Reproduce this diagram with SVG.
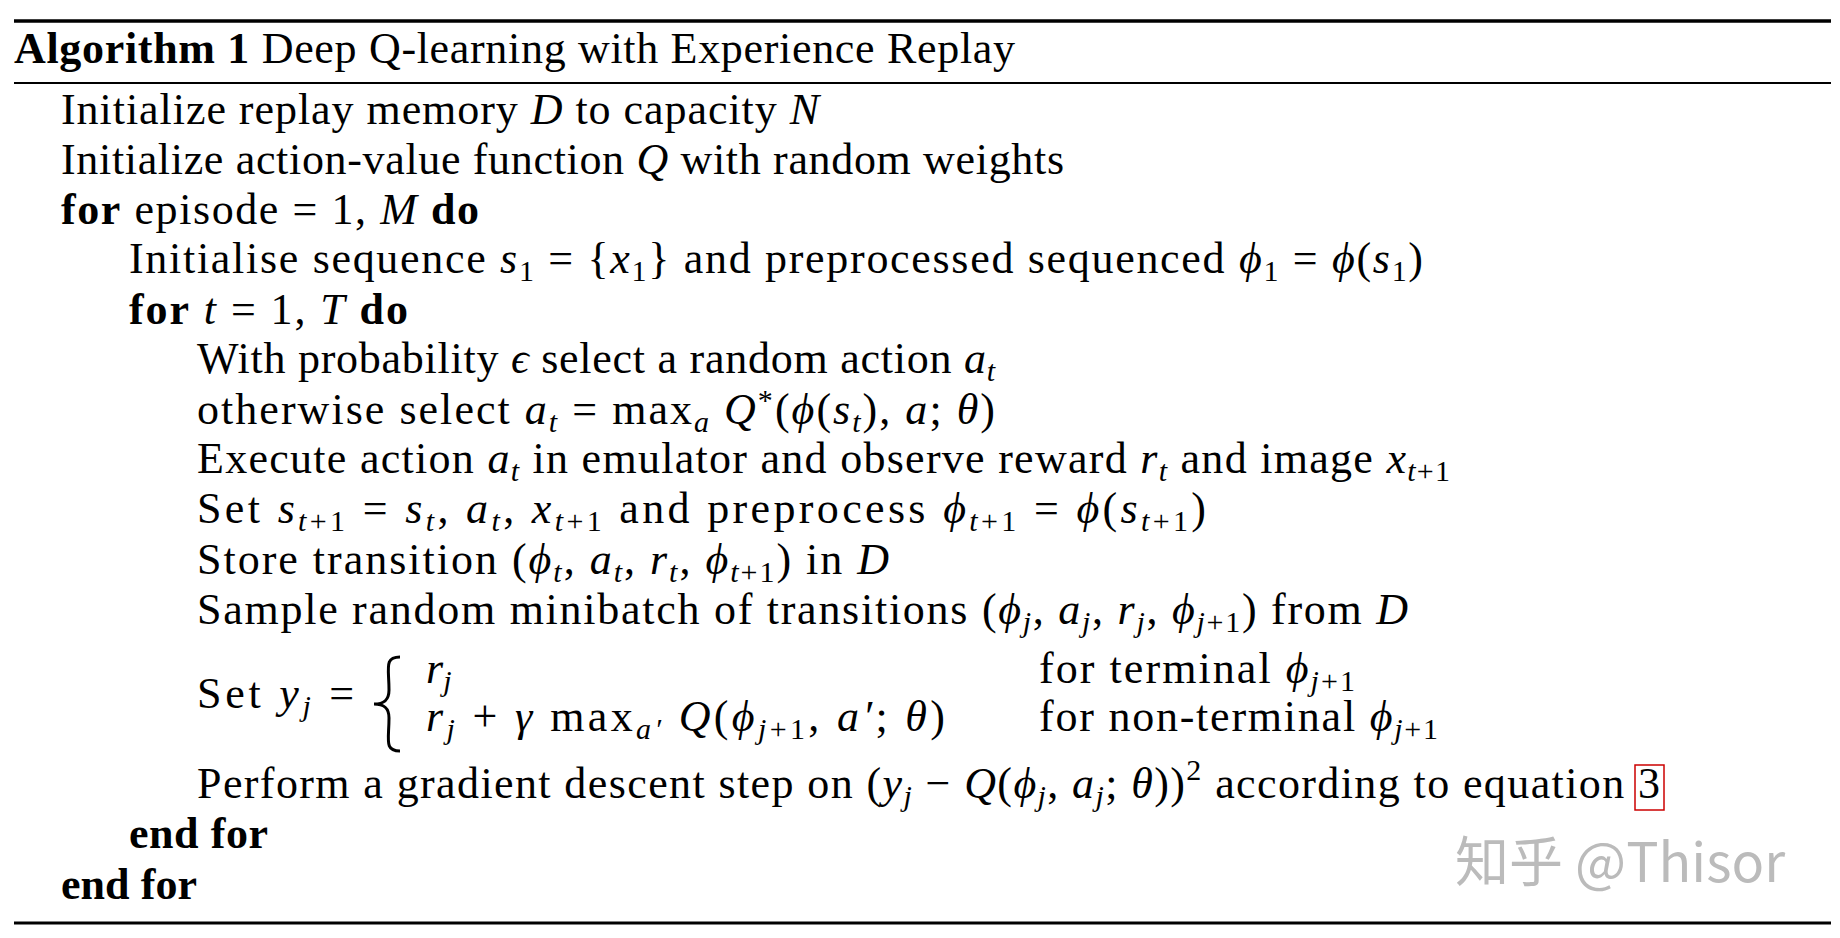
<svg xmlns="http://www.w3.org/2000/svg" width="1840" height="938" viewBox="0 0 1840 938">
<style>
text{font-family:"Liberation Serif","Times New Roman",serif;font-size:44px;fill:#000}
.i{font-style:italic}
.b{font-weight:bold}
.s{font-size:30px}
</style>
<rect width="1840" height="938" fill="#fff"/>
<g id="rules">
<line x1="14" y1="21" x2="1831" y2="21" stroke="#000" stroke-width="3.5"/>
<line x1="14" y1="83" x2="1831" y2="83" stroke="#000" stroke-width="2"/>
<line x1="14" y1="923" x2="1831" y2="923" stroke="#000" stroke-width="3"/>
</g>
<g id="header"><text x="14" y="63" textLength="1001" lengthAdjust="spacing"><tspan class="b">Algorithm 1</tspan> Deep Q-learning with Experience Replay</text></g>
<g id="body">
<text x="61" y="124" textLength="758" lengthAdjust="spacing">Initialize replay memory <tspan class="i">D</tspan> to capacity <tspan class="i">N</tspan></text>
<text x="61" y="174" textLength="1003" lengthAdjust="spacing">Initialize action-value function <tspan class="i">Q</tspan> with random weights</text>
<text x="61" y="224" textLength="418" lengthAdjust="spacing"><tspan class="b">for</tspan> episode = 1, <tspan class="i">M</tspan> <tspan class="b">do</tspan></text>
<text x="129" y="273" textLength="1294" lengthAdjust="spacing">Initialise sequence <tspan class="i">s</tspan><tspan class="s" dy="8">1</tspan><tspan dy="-8"> = {</tspan><tspan class="i">x</tspan><tspan class="s" dy="8">1</tspan><tspan dy="-8">} and preprocessed sequenced </tspan><tspan class="i">ϕ</tspan><tspan class="s" dy="8">1</tspan><tspan dy="-8"> = </tspan><tspan class="i">ϕ</tspan>(<tspan class="i">s</tspan><tspan class="s" dy="8">1</tspan><tspan dy="-8">)</tspan></text>
<text x="129" y="324" textLength="279" lengthAdjust="spacing"><tspan class="b">for</tspan> <tspan class="i">t</tspan> = 1, <tspan class="i">T</tspan> <tspan class="b">do</tspan></text>
<text x="197" y="373" textLength="798" lengthAdjust="spacing">With probability <tspan class="i">ϵ</tspan> select a random action <tspan class="i">a</tspan><tspan class="s i" dy="8">t</tspan></text>
<text x="197" y="424" textLength="798" lengthAdjust="spacing">otherwise select <tspan class="i">a</tspan><tspan class="s i" dy="8">t</tspan><tspan dy="-8"> = max</tspan><tspan class="s i" dy="8">a</tspan><tspan dy="-8"> </tspan><tspan class="i">Q</tspan><tspan dy="-14" class="s">*</tspan><tspan dy="14">(</tspan><tspan class="i">ϕ</tspan>(<tspan class="i">s</tspan><tspan class="s i" dy="8">t</tspan><tspan dy="-8">), </tspan><tspan class="i">a</tspan>; <tspan class="i">θ</tspan>)</text>
<text x="197" y="473" textLength="1253" lengthAdjust="spacing">Execute action <tspan class="i">a</tspan><tspan class="s i" dy="8">t</tspan><tspan dy="-8"> in emulator and observe reward </tspan><tspan class="i">r</tspan><tspan class="s i" dy="8">t</tspan><tspan dy="-8"> and image </tspan><tspan class="i">x</tspan><tspan class="s" dy="8"><tspan class="i">t</tspan>+1</tspan></text>
<text x="197" y="523" textLength="1009" lengthAdjust="spacing">Set <tspan class="i">s</tspan><tspan class="s" dy="8"><tspan class="i">t</tspan>+1</tspan><tspan dy="-8"> = </tspan><tspan class="i">s</tspan><tspan class="s i" dy="8">t</tspan><tspan dy="-8">, </tspan><tspan class="i">a</tspan><tspan class="s i" dy="8">t</tspan><tspan dy="-8">, </tspan><tspan class="i">x</tspan><tspan class="s" dy="8"><tspan class="i">t</tspan>+1</tspan><tspan dy="-8"> and preprocess </tspan><tspan class="i">ϕ</tspan><tspan class="s" dy="8"><tspan class="i">t</tspan>+1</tspan><tspan dy="-8"> = </tspan><tspan class="i">ϕ</tspan>(<tspan class="i">s</tspan><tspan class="s" dy="8"><tspan class="i">t</tspan>+1</tspan><tspan dy="-8">)</tspan></text>
<text x="197" y="574" textLength="692" lengthAdjust="spacing">Store transition (<tspan class="i">ϕ</tspan><tspan class="s i" dy="8">t</tspan><tspan dy="-8">, </tspan><tspan class="i">a</tspan><tspan class="s i" dy="8">t</tspan><tspan dy="-8">, </tspan><tspan class="i">r</tspan><tspan class="s i" dy="8">t</tspan><tspan dy="-8">, </tspan><tspan class="i">ϕ</tspan><tspan class="s" dy="8"><tspan class="i">t</tspan>+1</tspan><tspan dy="-8">) in </tspan><tspan class="i">D</tspan></text>
<text x="197" y="624" textLength="1211" lengthAdjust="spacing">Sample random minibatch of transitions (<tspan class="i">ϕ</tspan><tspan class="s i" dy="8">j</tspan><tspan dy="-8">, </tspan><tspan class="i">a</tspan><tspan class="s i" dy="8">j</tspan><tspan dy="-8">, </tspan><tspan class="i">r</tspan><tspan class="s i" dy="8">j</tspan><tspan dy="-8">, </tspan><tspan class="i">ϕ</tspan><tspan class="s" dy="8"><tspan class="i">j</tspan>+1</tspan><tspan dy="-8">) from </tspan><tspan class="i">D</tspan></text>
<text x="197" y="708" textLength="157" lengthAdjust="spacing">Set <tspan class="i">y</tspan><tspan class="s i" dy="8">j</tspan><tspan dy="-8"> =</tspan></text>
<path d="M400,657 C384,657 389,668 389,690 C389,700 384,704 374,704 C384,704 389,708 389,718 C389,740 384,751 400,751" fill="none" stroke="#000" stroke-width="3"/>
<text x="426" y="683"><tspan class="i">r</tspan><tspan class="s i" dy="8">j</tspan></text>
<text x="426" y="731" textLength="519" lengthAdjust="spacing"><tspan class="i">r</tspan><tspan class="s i" dy="8">j</tspan><tspan dy="-8"> + </tspan><tspan class="i">γ</tspan> max<tspan class="s i" dy="8">a′</tspan><tspan dy="-8"> </tspan><tspan class="i">Q</tspan>(<tspan class="i">ϕ</tspan><tspan class="s" dy="8"><tspan class="i">j</tspan>+1</tspan><tspan dy="-8">, </tspan><tspan class="i">a′</tspan>; <tspan class="i">θ</tspan>)</text>
<text x="1039" y="683" textLength="316" lengthAdjust="spacing">for terminal <tspan class="i">ϕ</tspan><tspan class="s" dy="8"><tspan class="i">j</tspan>+1</tspan></text>
<text x="1039" y="731" textLength="399" lengthAdjust="spacing">for non-terminal <tspan class="i">ϕ</tspan><tspan class="s" dy="8"><tspan class="i">j</tspan>+1</tspan></text>
<text x="197" y="798" textLength="1463" lengthAdjust="spacing">Perform a gradient descent step on (<tspan class="i">y</tspan><tspan class="s i" dy="8">j</tspan><tspan dy="-8"> − </tspan><tspan class="i">Q</tspan>(<tspan class="i">ϕ</tspan><tspan class="s i" dy="8">j</tspan><tspan dy="-8">, </tspan><tspan class="i">a</tspan><tspan class="s i" dy="8">j</tspan><tspan dy="-8">; </tspan><tspan class="i">θ</tspan>))<tspan class="s" dy="-18">2</tspan><tspan dy="18"> according to equation 3</tspan></text>
<rect x="1635" y="765" width="29" height="45" fill="none" stroke="#c00" stroke-width="1.5"/>
<text x="129" y="848" class="b" textLength="139" lengthAdjust="spacing">end for</text>
<text x="61" y="899" class="b" textLength="136" lengthAdjust="spacing">end for</text>
</g>
<g id="watermark"><text x="1455" y="882" style="font-family:'Noto Sans CJK SC','Noto Sans',sans-serif;font-size:54px;fill:#bbb">知乎 @Thisor</text></g>
</svg>
